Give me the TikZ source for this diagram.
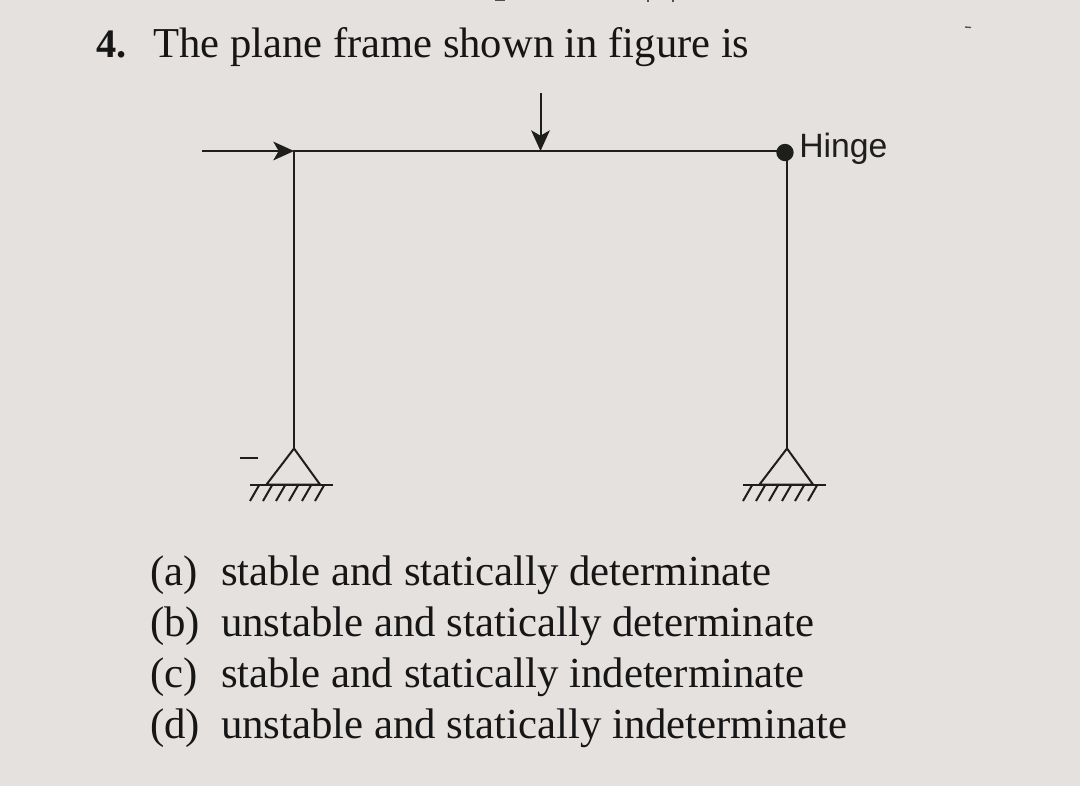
\documentclass[tikz,border=0pt]{standalone}
\usepackage{fontspec}
\setmainfont{Liberation Serif}
\newfontfamily\hingefont{Liberation Sans}
\usetikzlibrary{arrows.meta,calc}
\definecolor{paper}{HTML}{E4E1DE}
\definecolor{ink}{HTML}{1E1E1C}
\tikzset{
  x=0.75pt,y=-0.75pt,
  member/.style={draw=ink,line width=1.5pt},
  load/.style={draw=ink,line width=1.5pt,-{Stealth[length=15.5pt,width=14pt,inset=4pt]}},
  speck/.style={draw=ink!75!paper,line width=1pt},
  label text/.style={anchor=base west,inner sep=0pt,outer sep=0pt,text=black!90!paper,font=\fontsize{32.1pt}{36pt}\selectfont},
}
\newcommand{\supportat}[1]{%
  \draw[member,line join=miter] (#1) -- ($(#1)+(-27.5,36)$) -- ($(#1)+(26,36)$) -- cycle;
  \draw[member] ($(#1)+(-44,36)$) -- ++(83,0);
  \foreach \k in {0,...,5}{
    \draw[member] ($(#1)+(-34.5+\k*13,36)$) -- ++(-9.5,16.5);
  }
}
\begin{document}
\begin{tikzpicture}
\useasboundingbox[fill=paper] (0,0) rectangle (1080,786);
\coordinate (tl) at (294,151);
\coordinate (tr) at (787,151);
\coordinate (bl) at (294,448.5);
\coordinate (br) at (787,448.5);
\coordinate (hstart) at (202,151);
\coordinate (vstart) at (540.5,93);
\coordinate (vend) at (540.5,151);
\draw[member] (bl) -- (tl) -- (tr) -- (br);
\draw[load] (hstart) -- (tl);
\draw[load] (vstart) -- (vend);
\node[circle,fill=ink,draw=none,minimum size=13pt,inner sep=0pt] (hinge) at (785,152.5) {};
\node[anchor=base west,inner sep=0pt,text=ink,font=\hingefont\fontsize{25.3pt}{28pt}\selectfont] (hingelabel) at (799,157) {Hinge};
\supportat{bl}
\supportat{br}
\draw[member] (240,458) -- (258,458);
\draw[speck] (495,0.5) -- (505,0.5);
\draw[speck] (648,0) -- (648,2);
\draw[speck] (673,0) -- (673,2);
\draw[speck] (965,27) -- (971,27.5);
\node[anchor=base west,inner sep=0pt,text=black!90!paper,font=\bfseries\fontsize{30.3pt}{34pt}\selectfont] (num) at (96,57) {4.};
\node[anchor=base west,inner sep=0pt,text=black!90!paper,font=\fontsize{31.95pt}{36pt}\selectfont] (title) at (153,57) {The plane frame shown in figure is};
\node[label text] (a1) at (150,585) {(a)};
\node[label text] (a2) at (221,585) {stable and statically determinate};
\node[label text] (b1) at (150,636) {(b)};
\node[label text] (b2) at (221,636) {unstable and statically determinate};
\node[label text] (c1) at (150,687) {(c)};
\node[label text] (c2) at (221,687) {stable and statically indeterminate};
\node[label text] (d1) at (150,738) {(d)};
\node[label text] (d2) at (221,738) {unstable and statically indeterminate};
\end{tikzpicture}
\end{document}
